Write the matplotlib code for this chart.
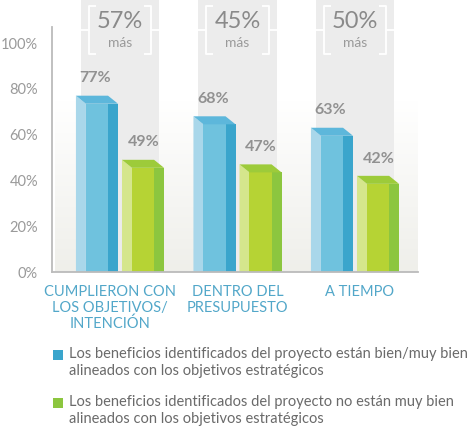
import matplotlib
matplotlib.use('Agg')
import matplotlib.pyplot as plt
import numpy as np
from matplotlib.patches import Polygon, Rectangle

# data
categories = ['CUMPLIERON CON\nLOS OBJETIVOS/\nINTENCIÓN', 'DENTRO DEL\nPRESUPUESTO', 'A TIEMPO']
aligned = [77, 68, 63]
not_aligned = [49, 47, 42]
more_pct = ['57%', '45%', '50%']
y_ticks = [0, 20, 40, 60, 80, 100]
legend_labels = ['Los beneficios identificados del proyecto están bien/muy bien\nalineados con los objetivos estratégicos',
                 'Los beneficios identificados del proyecto no están muy bien\nalineados con los objetivos estratégicos']

plt.rcParams['font.family'] = ['Lato', 'DejaVu Sans']

BLUE = ('#a9d7ea', '#6fc2de', '#3aa5cc', '#5db7db')
GREEN = ('#d5e68c', '#b6d334', '#8cc63f', '#9dcb3a')
W, H = 470, 432


def bar3d(ax, xc, v, cols):
    light, mid, dark, top = cols
    hw, iw, d = 0.179, 0.094, 3.5
    f = v - d
    ax.add_patch(Polygon([(xc - hw, 0), (xc - iw, 0), (xc - iw, f), (xc - hw, v)], color=light, lw=0, zorder=3))
    ax.add_patch(Rectangle((xc - iw, 0), 2 * iw, f, color=mid, lw=0, zorder=3))
    ax.add_patch(Rectangle((xc + iw, 0), hw - iw, f, color=dark, lw=0, zorder=3))
    ax.add_patch(Polygon([(xc - hw, v), (xc + iw, v), (xc + hw, f), (xc - iw, f)], color=top, lw=0, zorder=3))


fig = plt.figure(figsize=(W / 100, H / 100), dpi=100)
ax = fig.add_axes([52 / W, 1 - 272 / H, 366 / W, 245 / H])

# soft background behind the bars
grad = np.linspace(0, 1, 100)[:, None]
c0 = np.array([1.0, 1.0, 1.0])
c1 = np.array([0.937, 0.937, 0.918])
img = c0 + (c1 - c0) * grad[..., None] * np.ones((1, 2, 1))
ax.imshow(img, extent=(-0.553, 2.536, 0, 75), aspect='auto', zorder=0.5, origin='upper')

x = np.arange(len(categories))
for i in x:
    ax.add_patch(Rectangle((i - 0.332, 0), 0.664, 125, color='#ececec', lw=0, zorder=1, clip_on=False))
    bl, br = i - 0.268, i + 0.268
    yt, yb, ym, s = 116.2, 95.2, 105.7, 0.06
    kw = dict(color='white', lw=1.3, clip_on=False, zorder=2, solid_capstyle='butt')
    ax.plot([bl + s, bl, bl, bl + s], [yt, yt, yb, yb], **kw)
    ax.plot([br - s, br, br, br - s], [yt, yt, yb, yb], **kw)
    ax.plot([i - 0.332, bl], [ym, ym], **kw)
    ax.plot([br, i + 0.332], [ym, ym], **kw)
    ax.text(i, 109.3, more_pct[i], ha='center', va='center', fontsize=17, color='#8a8a8a', zorder=4)
    ax.text(i, 99.8, 'más', ha='center', va='center', fontsize=10, color='#9a9a9a', zorder=4)

for i in x:
    bar3d(ax, i - 0.196, aligned[i], BLUE)
    bar3d(ax, i + 0.196, not_aligned[i], GREEN)
    ax.text(i - 0.21, aligned[i] + 4.5, f'{aligned[i]}%', ha='center', va='bottom',
            fontsize=11.5, fontweight='bold', color='#919191', zorder=4)
    ax.text(i + 0.2, not_aligned[i] + 4.5, f'{not_aligned[i]}%', ha='center', va='bottom',
            fontsize=11.5, fontweight='bold', color='#919191', zorder=4)

nudge = [-0.085, 0.0, 0.04]
for i, lab in enumerate(categories):
    ax.text(i + nudge[i], -5.8, lab, ha='center', va='top', fontsize=10.5, color='#52a7c9',
            linespacing=1.15, clip_on=False)

ax.set_xlim(-68 / 117.5, 298 / 117.5)
ax.set_ylim(0, 107)
ax.set_xticks([])
ax.set_yticks(y_ticks)
ax.set_yticklabels([f'{t}%' for t in y_ticks])
ax.tick_params(axis='y', length=0, pad=10, labelcolor='#9a9a9a', labelsize=10.5)
for sp in ['top', 'right']:
    ax.spines[sp].set_visible(False)
for sp in ['left', 'bottom']:
    ax.spines[sp].set_color('#bbbbbb')
    ax.spines[sp].set_linewidth(1.3)
    ax.spines[sp].set_zorder(5)
ax.patch.set_alpha(0)

# legend
for k, (lab, col) in enumerate(zip(legend_labels, [BLUE[2], GREEN[2]])):
    y0 = 350 + k * 48
    fig.patches.append(Rectangle((53 / W, 1 - (y0 + 10) / H), 10 / W, 10 / H, color=col,
                                 transform=fig.transFigure, lw=0))
    fig.text(69 / W, 1 - (y0 - 3) / H, lab, ha='left', va='top', fontsize=10.5, color='#6a6a6a',
             linespacing=1.3)

fig.savefig('out.png', dpi=100)
